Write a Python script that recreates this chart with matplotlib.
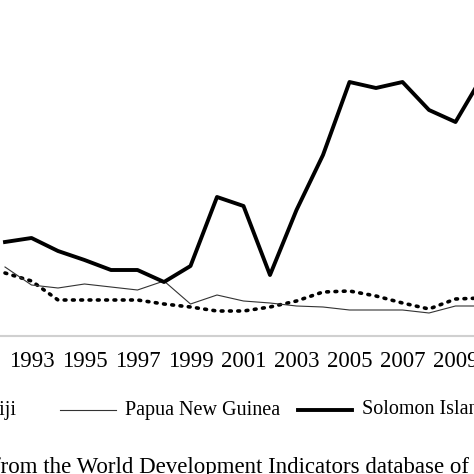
import matplotlib
matplotlib.use("Agg")
import matplotlib.pyplot as plt
from matplotlib.lines import Line2D

years = list(range(1992, 2011))
solomon = [242, 238, 251, 260, 270, 270, 282, 266, 197, 206, 275, 210, 155, 82, 88, 82, 110, 122, 77]
png = [267, 285, 288, 284, 287, 290, 281, 304, 295, 301, 303, 306, 307, 310, 310, 310, 313, 306, 306]
fiji = [273, 281, 300, 300, 300, 300, 304, 307, 311, 311, 307, 301, 292, 291, 296, 303, 309, 299, 298]
tick_years = [1993, 1995, 1997, 1999, 2001, 2003, 2005, 2007, 2009]

def val(p):
    return [(336 - y) / 2.5 for y in p]

plt.rcParams['font.family'] = ['Liberation Serif', 'DejaVu Serif']
fig = plt.figure(figsize=(4.74, 4.74), dpi=100)
ax = fig.add_axes([0, 1 - 336/474, 1, 336/474])
x0 = 1992 - 5/26.5
ax.set_xlim(x0, x0 + 474/26.5)
ax.set_ylim(0, 336/2.5)
ax.plot(years, val(fiji), color='black', lw=2.6, ls=(0, (0.5, 1.8)), dash_capstyle='round')
ax.plot(years, val(png), color='#333333', lw=0.8)
ax.plot(years, val(solomon), color='black', lw=2.8)
for s in ['top', 'left', 'right']:
    ax.spines[s].set_visible(False)
ax.spines['bottom'].set_color('#d0d0d0')
ax.spines['bottom'].set_linewidth(1.5)
ax.set_yticks([])
ax.set_xticks(tick_years)
ax.set_xticklabels([str(t) for t in tick_years], fontsize=16.5)
ax.tick_params(axis='x', length=0, pad=11)

def fx(p): return p/474
def fy(p): return 1 - p/474
fs = 14.5
fig.text(fx(16), fy(410), "Fiji", ha='right', va='center', fontsize=fs)
fig.add_artist(Line2D([fx(60), fx(116)], [fy(410), fy(410)], color='#333333', lw=0.8))
fig.text(fx(125), fy(410), "Papua New Guinea", ha='left', va='center', fontsize=fs)
fig.add_artist(Line2D([fx(298), fx(352)], [fy(410), fy(410)], color='black', lw=2.8))
fig.text(fx(362), fy(410), "Solomon Islands", ha='left', va='center', fontsize=fs)
fig.text(fx(-7), fy(468), "from the World Development Indicators database of the World Bank",
         ha='left', va='center', fontsize=16.5)
fig.savefig("out.png", dpi=100)
